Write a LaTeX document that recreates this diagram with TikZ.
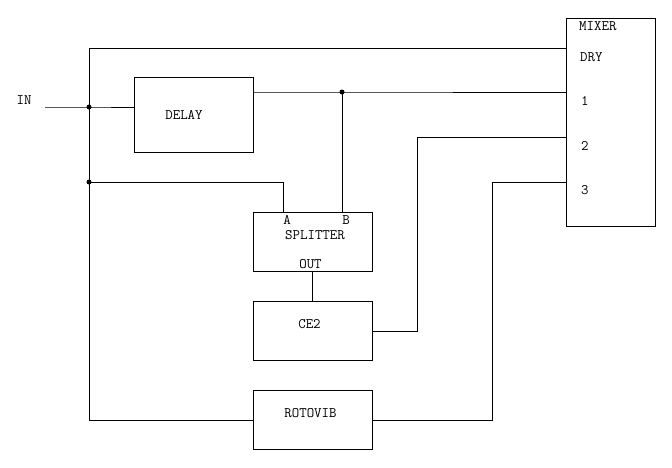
\documentclass[tikz,border=0pt]{standalone}
\usetikzlibrary{positioning}
\tikzset{
  unitbox/.style={rectangle, draw, line width=1pt,
    minimum width=119pt, minimum height=#1, inner sep=0pt},
  unitbox/.default=59pt,
  mixbox/.style={rectangle, draw, line width=1pt,
    minimum width=89pt, minimum height=208pt, inner sep=0pt},
  lbl/.style={font=\ttfamily\fontsize{14.5}{14.5}\selectfont, inner sep=0pt},
  wire/.style={line width=1pt},
  joint/.style={circle, fill, inner sep=0pt, minimum size=5pt},
}

\begin{document}
\begin{tikzpicture}[x=1pt, y=-1pt]
  \useasboundingbox[fill=white] (0,0) rectangle (672,467);
  % boxes
  \node[unitbox=75pt] (delay) at (193.5,114.5) {};
  \node[unitbox=59pt] (split) at (312.5,241.5) {};
  \node[unitbox] (ce2) at (312.5,331) {};
  \node[unitbox] (roto) at (312.5,419.5) {};
  \node[mixbox] (mixer) at (610.5,122.5) {};
  % texts
  \node[lbl] (intxt) at (24,100.5) {IN};
  \node[lbl] (delaytxt) at (184,115) {DELAY};
  \node[lbl] (porta) at (287,220) {A};
  \node[lbl] (portb) at (346,220) {B};
  \node[lbl] (splittxt) at (315,235) {SPLITTER};
  \node[lbl] (portout) at (310.5,264) {OUT};
  \node[lbl] (ce2txt) at (309.5,324.5) {CE2};
  \node[lbl] (rototxt) at (310.5,413) {ROTOVIB};
  \node[lbl, anchor=west] (mixtxt) at (579,26) {MIXER};
  \node[lbl, anchor=west] (drytxt) at (580,57) {DRY};
  \node[lbl, anchor=west] (ch1txt) at (581,101) {1};
  \node[lbl, anchor=west] (ch2txt) at (581,146) {2};
  \node[lbl, anchor=west] (ch3txt) at (581,190) {3};
  % junctions and bends
  \coordinate (in) at (45,107);
  \coordinate (top) at (89,48);
  \coordinate (bot) at (89,420);
  \coordinate (pa) at (283,212);
  \coordinate (k2) at (417,137);
  \coordinate (k3) at (492,182);
  \node[joint] (j1) at (89,107) {};
  \node[joint] (j2) at (89,182) {};
  \node[joint] (j3) at (342,92) {};
  % wires
  \draw[wire] (in) -- (j1.center) -- (j1 -| delay.west);
  \draw[wire] (top) -- (bot);
  \draw[wire] (top) -- (top -| mixer.west);
  \draw[wire] (j3 -| delay.east) -- (j3.center) -- (j3 -| mixer.west);
  \draw[wire] (j3.center) -- (j3 |- split.north);
  \draw[wire] (j2.center) -| (pa);
  \draw[wire] (split.south) -- (ce2.north);
  \draw[wire] (ce2.east) -| (k2) -- (k2 -| mixer.west);
  \draw[wire] (bot) -- (bot -| roto.west);
  \draw[wire] (bot -| roto.east) -| (k3) -- (k3 -| mixer.west);
\end{tikzpicture}
\end{document}
